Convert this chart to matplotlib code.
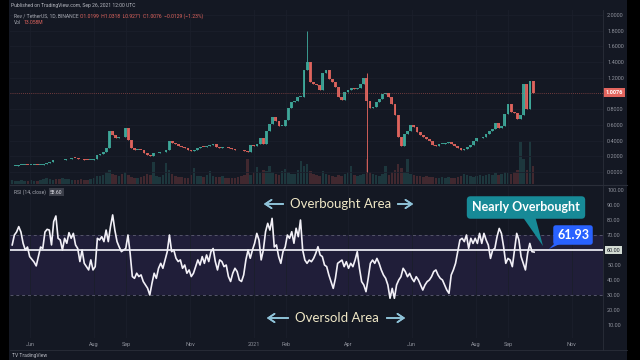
import datetime as dt
import numpy as np
import matplotlib
matplotlib.use("Agg")
import matplotlib.pyplot as plt
import matplotlib.dates as mdates
import matplotlib.transforms as mtrans
from matplotlib.patches import Polygon, Rectangle
from matplotlib.lines import Line2D

# ---- data ----
START = dt.date(2020, 5, 15)      # first daily candle
STEP_DAYS = 3                      # one value every 3 days
LAST_DAY = 499                     # Sep 26, 2021

first_open = 0.070
closes = [
    0.076, 0.082, 0.088, 0.089, 0.090, 0.089, 0.090, 0.092, 0.088, 0.090,
    0.100, 0.110, 0.130, 0.153, 0.150, 0.147, 0.155, 0.160, 0.170, 0.182,
    0.180, 0.168, 0.160, 0.155, 0.153, 0.158, 0.170, 0.217, 0.230, 0.260,
    0.300, 0.520, 0.470, 0.435, 0.450, 0.440, 0.560, 0.410, 0.310, 0.280,
    0.285, 0.280, 0.245, 0.220, 0.200, 0.238, 0.240, 0.250, 0.258, 0.275,
    0.400, 0.366, 0.360, 0.330, 0.315, 0.302, 0.275, 0.265, 0.285, 0.310,
    0.323, 0.318, 0.325, 0.340, 0.355, 0.320, 0.305, 0.320, 0.315, 0.300,
    0.295, 0.285, 0.278, 0.276, 0.270, 0.260, 0.340, 0.335, 0.360, 0.430,
    0.360, 0.520, 0.610, 0.700, 0.650, 0.590, 0.590, 0.660, 0.810, 0.890,
    0.900, 0.960, 0.960, 1.300, 1.400, 1.150, 1.120, 1.110, 1.050, 1.260,
    1.300, 1.180, 1.150, 1.080, 0.950, 0.920, 1.020, 1.050, 1.070, 1.060,
    1.070, 1.120, 1.200, 0.900, 0.820, 0.830, 0.890, 0.930, 1.000, 1.010,
    0.950, 0.870, 0.720, 0.440, 0.330, 0.480, 0.520, 0.600, 0.570, 0.510,
    0.470, 0.440, 0.420, 0.390, 0.340, 0.335, 0.360, 0.360, 0.370, 0.385,
    0.360, 0.335, 0.305, 0.280, 0.295, 0.320, 0.345, 0.400, 0.430, 0.435,
    0.450, 0.490, 0.520, 0.550, 0.620, 0.560, 0.580, 0.740, 0.870, 0.770,
    0.750, 0.680, 0.720, 1.120, 0.800, 1.160, 1.0076,
]
# notable wicks (candle index -> price)
wick_highs = {94: 1.80, 113: 1.26}
wick_lows = {113: 0.0}

volume = [
    4, 3, 3, 4, 3, 3, 4, 3, 3, 4,
    5, 6, 5, 4, 5, 5, 6, 5, 5, 4,
    4, 4, 5, 4, 4, 5, 6, 8, 8, 9,
    12, 14, 10, 9, 8, 10, 12, 9, 7, 6,
    6, 7, 8, 10, 9, 22, 8, 7, 9, 21,
    14, 10, 8, 7, 7, 6, 6, 9, 16, 8,
    8, 7, 9, 13, 8, 7, 7, 8, 6, 6,
    6, 6, 7, 8, 9, 25, 9, 12, 17, 11,
    14, 13, 18, 12, 10, 9, 13, 15, 12, 10,
    10, 14, 23, 18, 20, 13, 10, 9, 8, 13,
    10, 9, 8, 7, 9, 8, 10, 12, 18, 9,
    8, 9, 10, 25, 12, 10, 9, 8, 10, 18,
    9, 12, 14, 20, 16, 12, 25, 10, 9, 8,
    8, 7, 8, 7, 7, 6, 6, 7, 6, 7,
    6, 6, 7, 8, 10, 9, 8, 7, 8, 9,
    8, 9, 10, 9, 11, 9, 10, 12, 11, 10,
    12, 14, 42, 25, 14, 43, 18,
]

rsi = [
    63.4, 70.0, 72.0, 75.6, 72.0, 64.5, 60.0, 62.0, 55.6, 53.8,
    52.0, 49.4, 55.6, 62.0, 61.0, 72.0, 73.8, 73.3, 63.4, 79.0,
    82.7, 67.8, 66.7, 60.0, 67.8, 64.5, 71.6, 67.8, 71.1, 63.4,
    61.0, 52.3, 60.0, 51.1, 48.9, 46.7, 53.4, 46.7, 48.9, 67.8,
    66.7, 68.9, 65.6, 73.3, 65.6, 75.6, 83.4, 73.3, 65.6, 62.0,
    58.9, 60.0, 61.0, 70.0, 57.8, 42.3, 41.1, 44.5, 42.3, 43.4,
    39.0, 36.7, 34.5, 30.0, 37.8, 44.5, 41.1, 47.8, 51.1, 47.8,
    53.4, 58.9, 70.0, 58.9, 60.0, 54.5, 52.3, 53.4, 47.8, 50.0,
    44.5, 46.7, 42.3, 44.5, 48.9, 53.4, 50.0, 55.6, 51.1, 56.7,
    52.3, 58.9, 61.0, 52.3, 46.7, 53.4, 52.3, 48.9, 50.0, 42.3,
    39.0, 44.5, 47.8, 45.6, 40.0, 39.0, 43.4, 53.4, 60.0, 54.5,
    60.0, 64.5, 71.1, 66.7, 53.4, 60.0, 72.2, 77.8, 73.3, 81.1,
    62.0, 63.4, 55.6, 51.1, 58.9, 62.0, 70.0, 67.8, 72.2, 64.5,
    74.5, 68.9,
    80.0, 60.0, 53.3, 51.1, 53.3, 52.2, 54.4, 57.8, 62.2, 56.7,
    55.6, 50.0, 48.9, 43.3, 38.9, 34.4, 41.1, 51.1, 52.2, 53.3,
    48.9, 52.2, 47.8, 51.1, 48.9, 53.3, 58.9, 47.8, 38.9, 36.7,
    32.2, 41.1, 51.1, 53.3, 51.1, 54.4, 51.1, 46.7, 43.3, 41.1,
    36.7, 27.8, 34.4, 27.8, 36.7, 40.0, 42.2, 47.8, 45.6, 42.2,
    44.4, 41.1, 38.9, 42.2, 40.0, 36.7, 33.3, 36.7, 38.9, 40.0,
    42.2, 45.6, 46.7, 43.3, 41.1, 40.0, 36.7, 33.3, 31.1, 43.3,
    46.7, 51.1, 58.9, 66.7, 67.8, 65.6, 70.0, 61.1, 67.8, 64.4,
    67.8, 64.4, 71.1, 64.4, 71.1, 66.7, 63.3, 54.4, 60.0, 61.1,
    68.9, 74.4, 71.1, 62.2, 51.1, 54.4, 53.3, 48.9, 60.0, 71.1,
    66.7, 55.6, 51.1, 46.7, 57.8, 64.4, 58.9, 58.6,
]

month_ticks = ["2020-06-01", "2020-08-01", "2020-09-01", "2020-11-01",
               "2021-01-01", "2021-02-01", "2021-04-01", "2021-06-01",
               "2021-08-01", "2021-09-01", "2021-11-01"]
month_labels = ["Jun", "Aug", "Sep", "Nov", "2021", "Feb", "Apr", "Jun",
                "Aug", "Sep", "Nov"]
price_ticks = [0.0, 0.2, 0.4, 0.6, 0.8, 1.2, 1.4, 1.6, 1.8, 2.0]
rsi_ticks = [10, 20, 30, 40, 50, 70, 80, 90, 100]
last_price = 1.0076
rsi_level = 60
rsi_callout = 61.93

# ---- colours ----
BG = "#141823"
GRID = "#1b1f2b"
UP = "#3fa99b"
DOWN = "#e2655e"
AXTXT = "#8f929c"
SMALL = dict(fontsize=4.0, family=["Liberation Sans Narrow", "Roboto", "DejaVu Sans"])
TINY = dict(fontsize=3.6, family=["Liberation Sans Narrow", "Roboto", "DejaVu Sans"])

W, H = 640, 360


def fx(x):
    return x / W


def fy(y):
    return 1 - y / H


fig = plt.figure(figsize=(6.4, 3.6), dpi=100, facecolor=BG)

base = mdates.date2num(START)
t = base + STEP_DAYS * np.arange(len(closes))
t_rsi = base + np.linspace(0, LAST_DAY, len(rsi))
xlim = (base - 2.1, base + 564.8)
tick_pos = [mdates.datestr2num(d) for d in month_ticks]

# ---- price pane (volume underneath) ----
rect_p = [fx(10), fy(184), fx(593), 174 / H]
ax_v = fig.add_axes(rect_p, facecolor=BG)
ax_p = fig.add_axes(rect_p, sharex=ax_v)
ax_p.patch.set_alpha(0)

opens = np.array([first_open] + closes[:-1])
cl = np.array(closes)
up = cl >= opens
cols = np.where(up, UP, DOWN)
highs = np.maximum(opens, cl)
lows = np.minimum(opens, cl)
for i, v in wick_highs.items():
    highs[i] = v
for i, v in wick_lows.items():
    lows[i] = v

ax_v.bar(t, volume, width=2.4, color=cols, alpha=0.22, linewidth=0)
ax_v.set_ylim(0, 174)
ax_v.set_xlim(*xlim)
ax_v.set_yticks([])
ax_v.set_xticks(tick_pos)
ax_v.tick_params(axis="x", length=0, labelbottom=False)
ax_v.grid(axis="x", color=GRID, lw=0.6)
for y in price_ticks:
    ax_v.axhline((y + 0.153) / 2.217 * 174, color=GRID, lw=0.6)

body = np.maximum(np.abs(cl - opens), 0.008)
ax_p.vlines(t, lows, highs, colors=cols, lw=0.7, alpha=0.9)
ax_p.bar(t, body, bottom=np.minimum(opens, cl), width=2.7, color=cols,
         linewidth=0, alpha=0.9)
ax_p.axhline(last_price, color=DOWN, lw=0.6, ls=(0, (1, 1.5)), alpha=0.6)
ax_p.set_ylim(-0.153, 2.064)
ax_p.set_xlim(*xlim)
ax_p.yaxis.tick_right()
ax_p.set_yticks(price_ticks)
ax_p.set_yticklabels([f"{v:.4f}" for v in price_ticks], color=AXTXT, **SMALL)
ax_p.tick_params(axis="y", length=0, pad=3)
ax_p.tick_params(axis="x", length=0, labelbottom=False)
tr_p = mtrans.blended_transform_factory(ax_p.transAxes, ax_p.transData)
ax_p.text(1.004, last_price, f"{last_price:.4f}", transform=tr_p, ha="left",
          va="center", color="white", fontweight="bold",
          bbox=dict(boxstyle="square,pad=0.35", fc=DOWN, ec="none"), **SMALL)

# ---- RSI pane ----
ax_r = fig.add_axes([fx(10), 22 / H, fx(593), 152 / H], facecolor=BG)
ax_r.axhspan(30, 70, color="#201e39", lw=0)
ax_r.grid(axis="x", color=GRID, lw=0.6)
for y in (70, 30):
    ax_r.axhline(y, color="#55556a", lw=0.7, ls=(0, (3, 3)))
ax_r.axhline(rsi_level, color="#e6e6ee", lw=1.3)
ax_r.plot(t_rsi, rsi, color="#f2f0f7", lw=1.2, solid_joinstyle="round")
ax_r.set_xlim(*xlim)
ax_r.set_ylim(1.3, 102.7)
ax_r.yaxis.tick_right()
ax_r.set_yticks(rsi_ticks)
ax_r.set_yticklabels([f"{v:.2f}" for v in rsi_ticks], color=AXTXT, **SMALL)
ax_r.set_xticks(tick_pos)
ax_r.set_xticklabels(month_labels, color=AXTXT, **SMALL)
ax_r.tick_params(length=0)
ax_r.tick_params(axis="y", pad=3)
ax_r.tick_params(axis="x", pad=3)
tr_r = mtrans.blended_transform_factory(ax_r.transAxes, ax_r.transData)
ax_r.text(1.006, rsi_level, f"{rsi_level:.2f}", transform=tr_r, ha="left",
          va="center", color="#1a1d26",
          bbox=dict(boxstyle="square,pad=0.3", fc="#d3dbd3", ec="none"), **SMALL)

for a in (ax_v, ax_p, ax_r):
    for s in a.spines.values():
        s.set_visible(False)

# pane borders
fig.add_artist(Line2D([fx(10), fx(627)], [fy(185), fy(185)], color="#2a2e39", lw=0.8))
fig.add_artist(Line2D([fx(603), fx(603)], [fy(10), fy(350)], color="#2a2e39", lw=0.6))
fig.add_artist(Line2D([fx(10), fx(627)], [fy(350), fy(350)], color="#2a2e39", lw=0.6))

# ---- header texts ----
fig.text(fx(11), fy(5), "Published on TradingView.com, Sep 26, 2021 12:00 UTC",
         color="#b8bac2", va="center", **TINY)
fig.text(fx(14), fy(16), "Rev / TetherUS, 1D, BINANCE", color="#a6a9b2",
         va="center", **TINY)
fig.text(fx(80), fy(16), "O1.0199  H1.0318  L0.9271  C1.0076  \u22120.0129 (\u22121.23%)",
         color=DOWN, va="center", **TINY)
fig.text(fx(14), fy(22.5), "Vol", color="#a6a9b2", va="center", **TINY)
fig.text(fx(24), fy(22.5), "13.058M", color=DOWN, va="center", **TINY)
fig.text(fx(14), fy(192), "RSI (14, close)", color="#a6a9b2", va="center", **TINY)
fig.text(fx(50), fy(192), "58.60", color="#e0e0e8", va="center",
         bbox=dict(boxstyle="square,pad=0.25", fc="#3a3d48", ec="none"), **TINY)
fig.text(fx(12), fy(355), "TV TradingView", color="#b8bac2", va="center", **TINY)

# ---- annotations ----
ANN = dict(fontsize=9.5, family=["Lato", "DejaVu Sans"], color="#efe7c6")
ARW = dict(arrowstyle="->,head_length=0.45,head_width=0.3", color="#8fc3d9", lw=1.2)

fig.text(fx(341), fy(204), "Overbought Area", ha="center", va="center", **ANN)
fig.add_artist(plt.annotate("", xy=(fx(261), fy(204)), xytext=(fx(286), fy(204)),
                            xycoords="figure fraction", arrowprops=ARW))
fig.add_artist(plt.annotate("", xy=(fx(416), fy(204)), xytext=(fx(395), fy(204)),
                            xycoords="figure fraction", arrowprops=ARW))

fig.text(fx(337), fy(318), "Oversold Area", ha="center", va="center", **ANN)
fig.add_artist(plt.annotate("", xy=(fx(264), fy(318)), xytext=(fx(291), fy(318)),
                            xycoords="figure fraction", arrowprops=ARW))
fig.add_artist(plt.annotate("", xy=(fx(408), fy(318)), xytext=(fx(384), fy(318)),
                            xycoords="figure fraction", arrowprops=ARW))

TEAL = "#178a97"
fig.add_artist(Polygon([(fx(522), fy(216)), (fx(535), fy(216)), (fx(543), fy(246))],
                       closed=True, fc=TEAL, ec="none", transform=fig.transFigure))
fig.text(fx(526), fy(207.5), "Nearly Overbought", ha="center", va="center",
         fontsize=9, fontweight="bold", family=["Lato", "DejaVu Sans"], color="white",
         bbox=dict(boxstyle="round,pad=0.42,rounding_size=0.3", fc=TEAL, ec="none"))

BLUE = "#2962ff"
fig.add_artist(Polygon([(fx(557), fy(241)), (fx(566), fy(241)), (fx(549), fy(249))],
                       closed=True, fc=BLUE, ec="none", transform=fig.transFigure))
fig.text(fx(573), fy(235), f"{rsi_callout:.2f}", ha="center", va="center",
         fontsize=9, fontweight="bold", family=["Lato", "DejaVu Sans"], color="white",
         bbox=dict(boxstyle="round,pad=0.3,rounding_size=0.2", fc=BLUE, ec="none"))

# letterbox bars
fig.add_artist(Rectangle((0, 0), fx(9), 1, transform=fig.transFigure, fc="black", ec="none"))
fig.add_artist(Rectangle((fx(627), 0), fx(13), 1, transform=fig.transFigure, fc="black", ec="none"))

fig.savefig("out.png", dpi=100, facecolor=BG)
